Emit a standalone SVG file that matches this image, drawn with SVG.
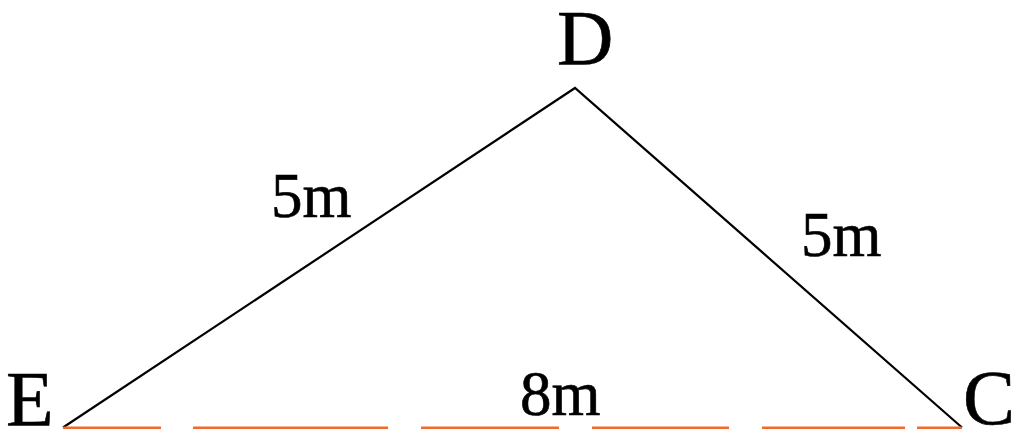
<svg xmlns="http://www.w3.org/2000/svg" width="1024" height="443" viewBox="0 0 1024 443">
<style>
.lbl{font-family:"Liberation Serif","Times New Roman",serif;fill:#000;stroke:#000;stroke-width:0.6}
.v{font-size:78px}
.m{font-size:63px}
.side{stroke:#000;stroke-width:2.2;fill:none;stroke-linejoin:miter}
.base{stroke:#f26a2b;stroke-width:2.6;fill:none}
</style>
<rect width="1024" height="443" fill="#fff"/>
<g id="connectors">
<path class="side" d="M63,427.5 L575,88 L962,427.5"/>
<path class="base" d="M63,427.7 H161 M193,427.7 H388 M421,427.7 H559 M592,427.7 H729 M762,427.7 H905 M917,427.7 H962"/>
</g>
<g id="node-D"><text class="lbl v" x="557" y="64">D</text></g>
<g id="node-E"><text class="lbl v" x="6" y="425">E</text></g>
<g id="node-C"><text class="lbl v" x="963" y="424">C</text></g>
<g id="label-ED"><text class="lbl m" x="271" y="217">5m</text></g>
<g id="label-DC"><text class="lbl m" x="801" y="256">5m</text></g>
<g id="label-EC"><text class="lbl m" x="520" y="415">8m</text></g>
</svg>
